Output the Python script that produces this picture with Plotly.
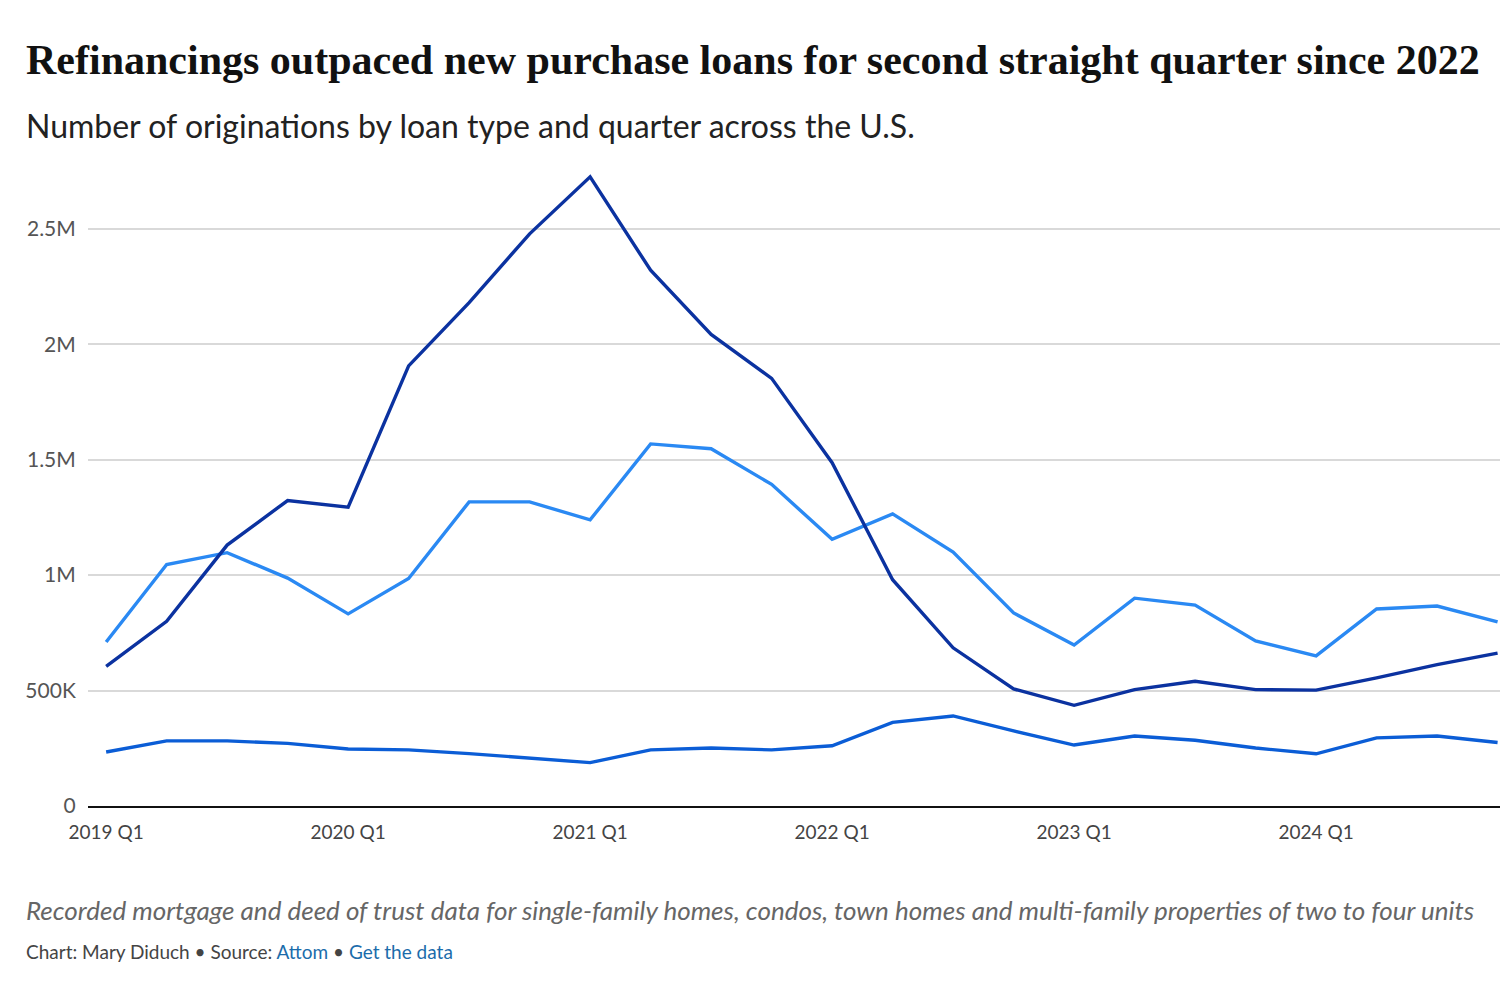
import plotly.graph_objects as go

quarters = [f"{y} Q{q}" for y in range(2019, 2025) for q in range(1, 5)]
tick_labels = ["2019 Q1", "2020 Q1", "2021 Q1", "2022 Q1", "2023 Q1", "2024 Q1"]

refinance = [605000, 800000, 1130000, 1323000, 1294000, 1906000, 2180000, 2478000,
             2725000, 2320000, 2042000, 1852000, 1487000, 980000, 685000, 507000,
             436000, 504000, 540000, 504000, 502000, 555000, 612000, 662000]
purchase = [710000, 1046000, 1097000, 987000, 832000, 985000, 1317000, 1317000,
            1239000, 1568000, 1547000, 1393000, 1155000, 1265000, 1100000, 836000,
            697000, 900000, 870000, 715000, 650000, 853000, 866000, 797000]
home_equity = [234000, 282000, 282000, 271000, 247000, 243000, 227000, 208000,
               188000, 243000, 251000, 243000, 261000, 362000, 390000, 325000,
               264000, 303000, 285000, 251000, 226000, 295000, 303000, 275000]

series = [
    ("Home equity", home_equity, "#0b5dd6"),
    ("Purchase", purchase, "#2a89f3"),
    ("Refinance", refinance, "#0b32a0"),
]

W, H = 1500, 1000
L, R, T, B = 88, 1500, 171, 806

def px(x):
    return (x - L) / (R - L)

def py(y):
    return (B - y) / (B - T)

fig = go.Figure()
for name, vals, color in series:
    fig.add_trace(go.Scatter(x=quarters, y=vals, name=name, mode="lines",
                             line=dict(color=color, width=3.4), cliponaxis=False))

sans = "Lato, 'Noto Sans', sans-serif"

fig.update_layout(
    width=W, height=H,
    margin=dict(l=L, r=W - R, t=T, b=H - B, pad=0),
    paper_bgcolor="white", plot_bgcolor="white",
    showlegend=False,
    font=dict(family=sans, color="#555555", size=20),
    xaxis=dict(
        type="category", range=[-0.3, 23.04],
        tickmode="array", tickvals=tick_labels, ticktext=tick_labels,
        showgrid=False, zeroline=False,
        showline=True, linecolor="#111111", linewidth=2,
        ticks="outside", ticklen=8, tickcolor="rgba(0,0,0,0)",
        tickfont=dict(family=sans, size=19, color="#444444"),
    ),
    yaxis=dict(
        range=[0, 2750000],
        tickmode="array",
        tickvals=[0, 500000, 1000000, 1500000, 2000000, 2500000],
        ticktext=["0", "500K", "1M", "1.5M", "2M", "2.5M"],
        showgrid=True, gridcolor="#d9d9d9", gridwidth=1.5,
        zeroline=False, showline=False,
        ticks="outside", ticklen=7, tickcolor="rgba(0,0,0,0)",
        tickfont=dict(family=sans, size=21, color="#555555"),
    ),
)

fig.add_annotation(
    text="<b>Refinancings outpaced new purchase loans for second straight quarter since 2022</b>",
    xref="paper", yref="paper", x=px(24), y=py(60), xanchor="left", yanchor="middle",
    showarrow=False, font=dict(family="'Liberation Serif', 'DejaVu Serif', serif", size=42, color="#111111"),
)
fig.add_annotation(
    text="Number of originations by loan type and quarter across the U.S.",
    xref="paper", yref="paper", x=px(24), y=py(125), xanchor="left", yanchor="middle",
    showarrow=False, font=dict(family=sans, size=32, color="#222222"),
)
fig.add_annotation(
    text="<i>Recorded mortgage and deed of trust data for single-family homes, condos, town homes and multi-family properties of two to four units</i>",
    xref="paper", yref="paper", x=px(24), y=py(910), xanchor="left", yanchor="middle",
    showarrow=False, font=dict(family=sans, size=26, color="#666666"),
)
fig.add_annotation(
    text="Chart: Mary Diduch • Source: <span style='color:#1b6cab'>Attom</span> • <span style='color:#1b6cab'>Get the data</span>",
    xref="paper", yref="paper", x=px(24), y=py(951), xanchor="left", yanchor="middle",
    showarrow=False, font=dict(family=sans, size=19, color="#444444"),
)

fig.write_html("out.html")
